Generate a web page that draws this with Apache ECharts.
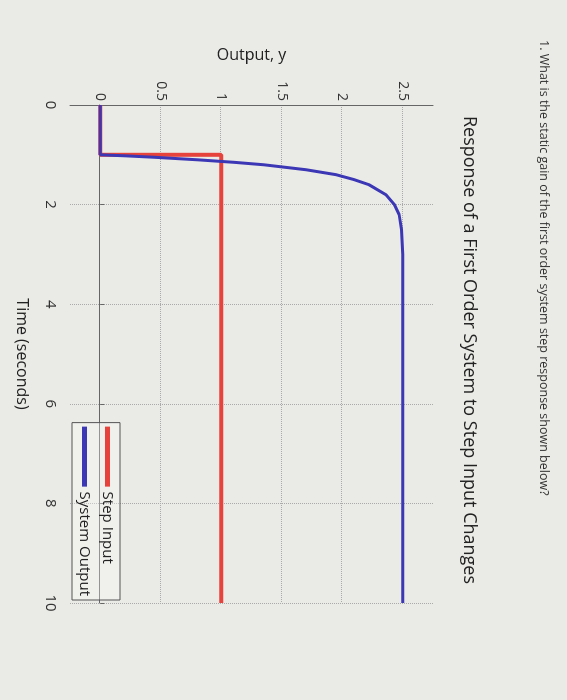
<!DOCTYPE html>
<html><head><meta charset="utf-8">
<script src="https://cdn.jsdelivr.net/npm/echarts@6/dist/echarts.min.js"></script>
<style>
html,body{margin:0;padding:0;width:567px;height:700px;overflow:hidden;background:#e4e4e0;}
#c{position:absolute;left:567px;top:0;width:700px;height:567px;transform-origin:0 0;transform:rotate(90deg);}
</style></head><body>
<div id="c"></div>
<script>
const stepTime = [0, 1, 1, 10];
const stepValue = [0, 0, 1, 1];
const outTime = [0, 1, 1.02, 1.05, 1.1, 1.15, 1.2, 1.3, 1.4, 1.5, 1.6, 1.8, 2, 2.2, 2.5, 3, 10];
const outValue = [0, 0, 0.2, 0.45, 0.8, 1.1, 1.35, 1.7, 1.95, 2.1, 2.22, 2.36, 2.43, 2.47, 2.49, 2.5, 2.5];
const yTicks = [0, 0.5, 1, 1.5, 2, 2.5];

const chart = echarts.init(document.getElementById('c'));
const font = "'Open Sans', sans-serif";
chart.setOption({
  backgroundColor: '#eaeae6',
  animation: false,
  textStyle: {fontFamily: font},
  title: [
    {text: 'Response of a First Order System to Step Input Changes', left: 'center', top: 84,
     textStyle: {fontFamily: font, fontSize: 18, fontWeight: 'normal', color: '#222'}},
    {text: '1. What is the static gain of the first order system step response shown below?', left: 35, top: 12,
     textStyle: {fontFamily: font, fontSize: 12.5, fontWeight: 'normal', color: '#333'}}
  ],
  grid: {left: 105, right: 97, top: 134, bottom: 70},
  legend: {
    orient: 'vertical', right: 100, bottom: 72, itemWidth: 60, itemHeight: 5, itemGap: 8,
    backgroundColor: 'rgba(255,255,255,0.3)', borderColor: '#555', borderWidth: 1, padding: [5, 4],
    textStyle: {fontFamily: font, fontSize: 15, color: '#222'},
    data: [{name: 'Step Input', icon: 'rect'}, {name: 'System Output', icon: 'rect'}]
  },
  xAxis: {
    type: 'value', min: 0, max: 10, interval: 2,
    name: 'Time (seconds)', nameLocation: 'middle', nameGap: 40,
    nameTextStyle: {fontFamily: font, fontSize: 16, color: '#222'},
    axisLine: {lineStyle: {color: '#666'}}, axisTick: {inside: true, length: 4},
    axisLabel: {fontFamily: font, fontSize: 15, color: '#333', margin: 12},
    splitLine: {show: true, lineStyle: {type: 'dotted', color: '#aaa'}}
  },
  yAxis: {
    type: 'value', min: -0.25, max: 2.75, interval: 0.25,
    name: 'Output, y', nameLocation: 'middle', nameGap: 42,
    nameTextStyle: {fontFamily: font, fontSize: 16, color: '#222'},
    axisLine: {show: true, lineStyle: {color: '#666'}}, axisTick: {show: false},
    axisLabel: {fontFamily: font, fontSize: 14, color: '#333', margin: 4,
      formatter: v => yTicks.some(t => Math.abs(t - v) < 1e-6) ? String(v) : ''},
    splitLine: {show: true, lineStyle: {type: 'dotted', color: ['transparent', '#aaa']}}
  },
  series: [
    {name: 'Step Input', type: 'line', showSymbol: false, color: '#e5433b',
     lineStyle: {width: 4, color: '#e5433b'}, data: stepTime.map((t, i) => [t, stepValue[i]])},
    {name: 'System Output', type: 'line', showSymbol: false, color: '#3b37b5',
     lineStyle: {width: 3, color: '#3b37b5'}, data: outTime.map((t, i) => [t, outValue[i]])}
  ]
});
</script></body></html>
